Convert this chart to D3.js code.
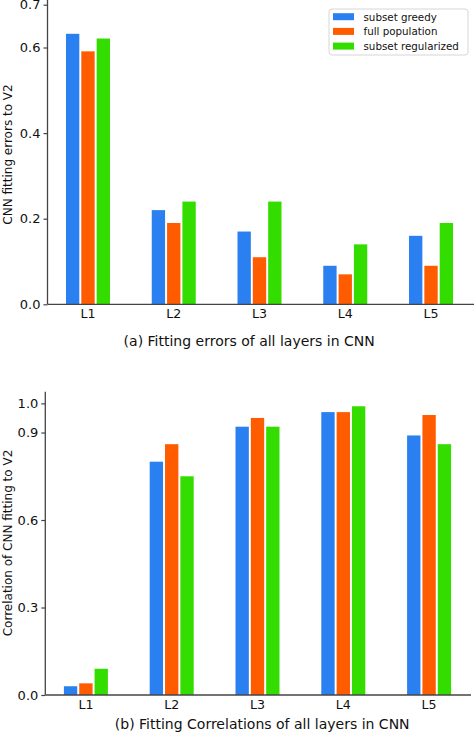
<!DOCTYPE html>
<html><head><meta charset="utf-8">
<script src="https://cdn.jsdelivr.net/npm/d3@7"></script>
<style>body{margin:0;background:#fff;} text{font-family:"DejaVu Sans",sans-serif;fill:#111;}</style>
</head><body>
<svg id="c" width="474" height="740"></svg>
<script>
const categories = ["L1","L2","L3","L4","L5"];
const seriesNames = ["subset greedy","full population","subset regularized"];
const colors = ["#2a80f0","#ff5c00","#33dd00"];
// (a) fitting errors
const errGreedy = [0.632,0.22,0.17,0.09,0.16];
const errFull = [0.591,0.19,0.11,0.07,0.09];
const errReg = [0.621,0.24,0.24,0.14,0.19];
// (b) correlations
const corGreedy = [0.03,0.80,0.92,0.97,0.89];
const corFull = [0.04,0.86,0.95,0.97,0.96];
const corReg = [0.09,0.75,0.92,0.99,0.86];
const ticksA = [0.0,0.2,0.4,0.6,0.7];
const ticksB = [0.0,0.3,0.6,0.9,1.0];

const svg = d3.select("#c");

function panel(cfg){
  const g = svg.append("g");
  const x = d3.scaleBand().domain(categories).range([cfg.x0, cfg.x1]).padding(0);
  const y = d3.scaleLinear().domain(cfg.ydom).range([cfg.yb, cfg.yt]);
  const sub = d3.scaleBand().domain(d3.range(3)).range([-22, 22]).paddingInner(0.13);
  const data = cfg.series;
  categories.forEach((c,i)=>{
    data.forEach((s,j)=>{
      g.append("rect")
        .attr("x", x(c) + x.bandwidth()/2 + sub(j))
        .attr("width", sub.bandwidth())
        .attr("y", y(s[i]))
        .attr("height", y(0) - y(s[i]))
        .attr("fill", colors[j]);
    });
  });
  // y axis
  const ya = d3.axisLeft(y).tickValues(cfg.ticks).tickFormat(d3.format(".1f")).tickSize(4).tickPadding(3);
  const yg = g.append("g").attr("transform", `translate(${cfg.spine},0)`).call(ya);
  yg.select(".domain").attr("d", `M0,${cfg.spineTop}V${cfg.yb}`).attr("stroke","#444").attr("stroke-width",1.3);
  yg.selectAll(".tick line").attr("stroke","#444").attr("stroke-width",1.2);
  yg.selectAll("text").style("font-size","13px").attr("fill","#111");
  // x axis
  const xa = d3.axisBottom(x).tickSize(0).tickPadding(5);
  const xg = g.append("g").attr("transform", `translate(0,${cfg.yb})`).call(xa);
  xg.select(".domain").attr("d", `M${cfg.spine},0H${cfg.xEnd}`).attr("stroke","#444").attr("stroke-width",1.3);
  xg.selectAll("text").style("font-size","12.6px").attr("fill","#111");
  // y label
  g.append("text").attr("transform", `translate(${cfg.ylx},${cfg.yly}) rotate(-90)`)
    .attr("text-anchor","middle").attr("dominant-baseline","central")
    .style("font-size","12px").text(cfg.ylabel);
  // caption
  g.append("text").attr("x", cfg.capx).attr("y", cfg.capy).attr("text-anchor","middle")
    .style("font-size","14px").text(cfg.caption);
  return {x,y};
}

panel({x0:45.1, x1:473.9, ydom:[0,0.7], yb:304.3, yt:4.7, spine:47.5, spineTop:0, xEnd:474,
  series:[errGreedy,errFull,errReg], ticks:ticksA, ylabel:"CNN fitting errors to V2", ylx:8, yly:154.5,
  caption:"(a) Fitting errors of all layers in CNN", capx:249.2, capy:345.5});

panel({x0:43, x1:472, ydom:[0,1.04], yb:695, yt:391.7, spine:45.3, spineTop:391.7, xEnd:471,
  series:[corGreedy,corFull,corReg], ticks:ticksB, ylabel:"Correlation of CNN fitting to V2", ylx:8, yly:543,
  caption:"(b) Fitting Correlations of all layers in CNN", capx:262.2, capy:729});

// legend
const lg = svg.append("g").attr("transform","translate(329,9)");
lg.append("rect").attr("width",139).attr("height",46).attr("rx",3)
  .attr("fill","#fff").attr("fill-opacity",0.8).attr("stroke","#d6d6d6").attr("stroke-width",1);
seriesNames.forEach((n,i)=>{
  const cy = 7.7 + i*14.7;
  lg.append("rect").attr("x",4).attr("y",cy-3.5).attr("width",21).attr("height",7).attr("fill",colors[i]);
  lg.append("text").attr("x",34.5).attr("y",cy).attr("dominant-baseline","central")
    .style("font-size","10.3px").text(n);
});
</script>
</body></html>
